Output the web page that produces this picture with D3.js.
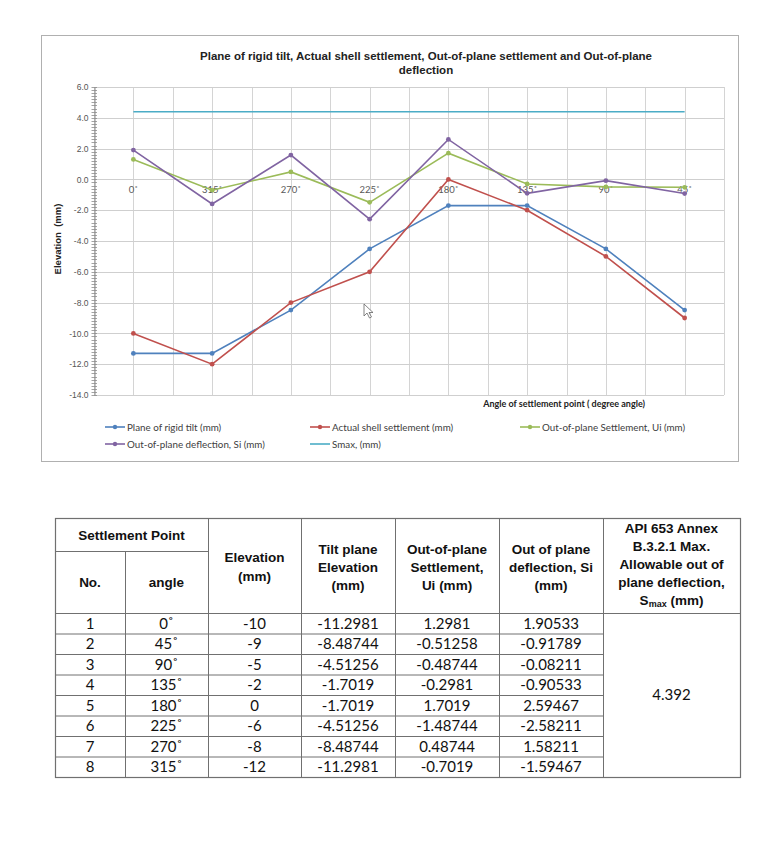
<!DOCTYPE html>
<html><head><meta charset="utf-8">
<script src="https://cdn.jsdelivr.net/npm/d3@7"></script>
<style>
body{margin:0;background:#fff;}
svg{display:block;}
</style></head>
<body>
<svg id="c" width="768" height="841"></svg>
<script>
// ---- data (table) ----
const pointNo   = [1,2,3,4,5,6,7,8];
const angles    = ["0˚","45˚","90˚","135˚","180˚","225˚","270˚","315˚"];
const elevation = ["-10","-9","-5","-2","0","-6","-8","-12"];
const tiltPlane = ["-11.2981","-8.48744","-4.51256","-1.7019","-1.7019","-4.51256","-8.48744","-11.2981"];
const uiVals    = ["1.2981","-0.51258","-0.48744","-0.2981","1.7019","-1.48744","0.48744","-0.7019"];
const siVals    = ["1.90533","-0.91789","-0.08211","-0.90533","2.59467","-2.58211","1.58211","-1.59467"];
const smax      = 4.392;
// chart category order (x axis)
const chartAngles = ["0˚","315˚","270˚","225˚","180˚","135˚","90˚","45˚"];
const yTicks = [6,4,2,0,-2,-4,-6,-8,-10,-12,-14];

const seriesNames  = ["Plane of rigid tilt (mm)","Actual shell settlement (mm)","Out-of-plane Settlement, Ui (mm)","Out-of-plane deflection, Si (mm)","Smax, (mm)"];
const seriesColors = ["#4F81BD","#C0504D","#9BBB59","#8064A2","#4BACC6"];

const svg = d3.select("#c");
svg.append("rect").attr("width",768).attr("height",841).attr("fill","#fff");

// ---- chart frame ----
svg.append("rect").attr("x",41.5).attr("y",35.5).attr("width",697).attr("height",426)
  .attr("fill","#fff").attr("stroke","#b0b0b0");

const L=94, R=724, T=87, B=395;
const x = d3.scaleBand().domain(chartAngles).range([L,R]);
const xc = a => x(a)+x.bandwidth()/2;
const y = d3.scaleLinear().domain([-14,6]).range([B,T]);

const g = svg.append("g");
// vertical gridlines at band edges and centres
const vLines = [];
chartAngles.forEach(a=>{vLines.push(x(a)); vLines.push(xc(a));});
vLines.push(R);
g.selectAll(".vg").data(vLines).join("line")
  .attr("x1",d=>Math.round(d)+0.5).attr("x2",d=>Math.round(d)+0.5)
  .attr("y1",T).attr("y2",B).attr("stroke","#d4d4d4").attr("stroke-width",1);
g.selectAll(".hg").data(yTicks).join("line")
  .attr("x1",L).attr("x2",R).attr("y1",d=>Math.round(y(d))+0.5).attr("y2",d=>Math.round(y(d))+0.5)
  .attr("stroke","#cfcfcf");
// y axis
const yAxis = d3.axisLeft(y).tickValues(yTicks).tickFormat(d3.format(".1f")).tickSize(0).tickPadding(6);
const ya = svg.append("g").attr("transform",`translate(${L+0.5},0)`).call(yAxis);
ya.select(".domain").attr("stroke","#8c8c8c");
ya.selectAll("text").attr("font-family","Liberation Sans, Arial").attr("font-size",8.5).attr("fill","#555")
  .text(d=>d3.format(".1f")(d).replace("−","-"));
// minor ticks
const minor = d3.range(-14,6.001,0.2).map(v=>+v.toFixed(1));
svg.append("g").selectAll("line").data(minor).join("line")
  .attr("x1",L-2.5).attr("x2",L+3).attr("y1",d=>Math.round(y(d))+0.5).attr("y2",d=>Math.round(y(d))+0.5)
  .attr("stroke","#8c8c8c").attr("stroke-width",0.8);

// x labels (at y=0)
svg.append("g").selectAll("text").data(chartAngles).join("text")
  .attr("x",d=>xc(d)).attr("y",y(0)+14).attr("text-anchor","middle")
  .attr("font-family","Lato, Calibri, sans-serif").attr("font-size",9.5).attr("fill","#595959").text(d=>d);

// series
const lookup = (arr)=>chartAngles.map(a=>+arr[angles.indexOf(a)]);
const series = [
  lookup(tiltPlane),
  lookup(elevation),
  lookup(uiVals),
  lookup(siVals),
  chartAngles.map(()=>smax)
];
const line = d3.line().x((d,i)=>xc(chartAngles[i])).y(d=>y(d));
series.forEach((s,k)=>{
  svg.append("path").datum(s).attr("d",line).attr("fill","none")
    .attr("stroke",seriesColors[k]).attr("stroke-width",1.6);
  if(k<4){
    svg.append("g").selectAll("circle").data(s).join("circle")
      .attr("cx",(d,i)=>xc(chartAngles[i])).attr("cy",d=>y(d)).attr("r",2.4)
      .attr("fill",seriesColors[k]);
  }
});

// mouse cursor glyph
svg.append("path").attr("d","M364,304 L364,316 L367,313 L369.5,318 L371.5,317 L369,312.5 L373,312.5 Z")
  .attr("fill","#fff").attr("stroke","#666").attr("stroke-width",0.8);

// titles
const title = svg.append("text").attr("text-anchor","middle").attr("font-family","Liberation Sans Narrow, Arial Narrow, Liberation Sans, Arial")
  .attr("font-weight","bold").attr("font-size",11.5).attr("fill","#222");
title.append("tspan").attr("x",426).attr("y",60).text("Plane of rigid tilt, Actual shell settlement,  Out-of-plane settlement  and Out-of-plane");
title.append("tspan").attr("x",426).attr("y",74).text("deflection");

svg.append("text").attr("transform","translate(61,239) rotate(-90)").attr("text-anchor","middle")
  .attr("font-family","Liberation Sans Narrow, Arial Narrow, Liberation Sans, Arial").attr("font-weight","bold")
  .attr("font-size",9.5).attr("fill","#222").attr("xml:space","preserve").text("Elevation  (mm)");
svg.append("text").attr("x",645).attr("y",407).attr("text-anchor","end")
  .attr("font-family","Lato, Calibri, sans-serif").attr("font-weight","bold").attr("font-size",9).attr("fill","#222")
  .text("Angle of settlement point ( degree angle)");

// legend
const legPos = [[105,427],[310,427],[520,427],[105,444],[310,444]];
seriesNames.forEach((n,k)=>{
  const [lx,ly]=legPos[k];
  svg.append("line").attr("x1",lx).attr("x2",lx+20).attr("y1",ly).attr("y2",ly)
    .attr("stroke",seriesColors[k]).attr("stroke-width",1.6);
  if(k<4) svg.append("circle").attr("cx",lx+10).attr("cy",ly).attr("r",2.2).attr("fill",seriesColors[k]);
  svg.append("text").attr("x",lx+22).attr("y",ly+3.5).attr("font-family","Lato, Calibri, sans-serif")
    .attr("font-size",9.8).attr("fill","#404040").text(n);
});

// ---- table ----
const colX = [55,125,208,301,395,499,603,740];
const tTop=518, tMid=551, hBot=613, rowH=20.5;
const tb = svg.append("g");
const lineC="#707070";
// outer border
tb.append("rect").attr("x",colX[0]+0.5).attr("y",tTop+0.5).attr("width",colX[7]-colX[0]).attr("height",hBot+8*rowH-tTop)
  .attr("fill","none").attr("stroke",lineC).attr("stroke-width",1.2);
// vertical lines
colX.slice(1,7).forEach((cx,i)=>{
  tb.append("line").attr("x1",cx+0.5).attr("x2",cx+0.5)
    .attr("y1",i===0?tMid:tTop).attr("y2",hBot+8*rowH).attr("stroke",lineC);
});
tb.append("line").attr("x1",colX[0]).attr("x2",colX[2]).attr("y1",tMid+0.5).attr("y2",tMid+0.5).attr("stroke",lineC);
tb.append("line").attr("x1",colX[0]).attr("x2",colX[7]).attr("y1",hBot+0.5).attr("y2",hBot+0.5).attr("stroke",lineC).attr("stroke-width",1.2);
for(let r=1;r<8;r++){
  tb.append("line").attr("x1",colX[0]).attr("x2",colX[6]).attr("y1",hBot+r*rowH+0.5).attr("y2",hBot+r*rowH+0.5).attr("stroke",lineC);
}
const cxm = i=>(colX[i]+colX[i+1])/2;
const hdr = (txt,xx,yy)=>tb.append("text").attr("x",xx).attr("y",yy).attr("text-anchor","middle")
  .attr("font-family","Liberation Sans, Arial").attr("font-weight","bold").attr("font-size",13.5).attr("fill","#111").text(txt);
hdr("Settlement Point",(colX[0]+colX[2])/2,540);
hdr("No.",cxm(0),587); hdr("angle",cxm(1),587);
hdr("Elevation",cxm(2),562); hdr("(mm)",cxm(2),581);
hdr("Tilt plane",cxm(3),554); hdr("Elevation",cxm(3),572); hdr("(mm)",cxm(3),590);
hdr("Out-of-plane",cxm(4),554); hdr("Settlement,",cxm(4),572); hdr("Ui (mm)",cxm(4),590);
hdr("Out of plane",cxm(5),554); hdr("deflection, Si",cxm(5),572); hdr("(mm)",cxm(5),590);
hdr("API 653 Annex",cxm(6),533); hdr("B.3.2.1 Max.",cxm(6),551); hdr("Allowable out of",cxm(6),569);
hdr("plane deflection,",cxm(6),587);
const sm = hdr("",cxm(6),605);
sm.append("tspan").text("S");
sm.append("tspan").attr("font-size",9).attr("dy",2).text("max");
sm.append("tspan").attr("dy",-2).text(" (mm)");

const cols = [pointNo.map(String), angles, elevation, tiltPlane, uiVals, siVals];
cols.forEach((col,ci)=>{
  col.forEach((v,ri)=>{
    tb.append("text").attr("x",cxm(ci)).attr("y",hBot+ri*rowH+15.5).attr("text-anchor","middle")
      .attr("font-family","Lato, Calibri, sans-serif").attr("font-size",15).attr("fill","#111").text(v);
  });
});
tb.append("text").attr("x",cxm(6)).attr("y",hBot+4*rowH+5).attr("text-anchor","middle")
  .attr("font-family","Lato, Calibri, sans-serif").attr("font-size",15).attr("fill","#111").text(String(smax));
</script>
</body></html>
